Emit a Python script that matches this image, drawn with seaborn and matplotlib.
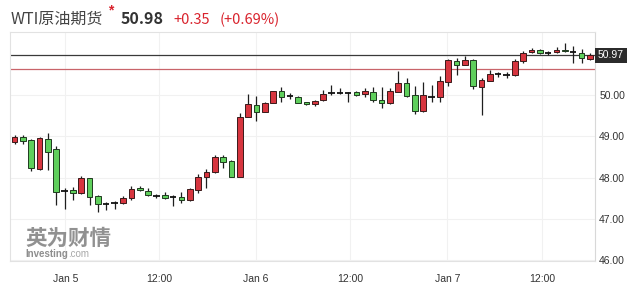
import numpy as np
import pandas as pd
import matplotlib
matplotlib.use("Agg")
import matplotlib.pyplot as plt
import seaborn as sns

# ---- data ----
opens = [48.86, 48.99, 48.91, 48.20, 48.93, 48.69, 47.67, 47.70, 47.62, 47.98,
         47.55, 47.36, 47.38, 47.38, 47.50, 47.75, 47.67, 47.55, 47.58, 47.52,
         47.54, 47.46, 47.70, 48.02, 48.13, 48.49, 48.40, 48.01, 49.46, 49.76,
         49.60, 49.82, 50.09, 49.98, 49.95, 49.83, 49.78, 49.88, 50.05, 50.05,
         50.05, 50.07, 50.02, 50.07, 49.88, 49.80, 50.07, 50.29, 50.00, 49.62,
         49.96, 49.96, 50.33, 50.83, 50.72, 50.85, 50.19, 50.35, 50.51, 50.49,
         50.49, 50.83, 51.04, 51.10, 51.03, 51.04, 51.10, 51.04, 51.03, 50.87]
highs = [49.04, 49.03, 48.93, 48.98, 49.08, 48.77, 47.76, 47.78, 48.04, 48.00,
         47.58, 47.40, 47.43, 47.55, 47.80, 47.80, 47.76, 47.60, 47.66, 47.58,
         47.66, 47.74, 48.08, 48.21, 48.55, 48.55, 48.43, 49.56, 50.03, 49.98,
         49.84, 50.11, 50.19, 50.05, 49.98, 49.84, 49.88, 50.13, 50.25, 50.17,
         50.07, 50.09, 50.17, 50.19, 50.19, 50.17, 50.59, 50.41, 50.21, 50.33,
         50.25, 50.47, 50.87, 50.90, 50.95, 50.87, 50.41, 50.61, 50.56, 50.55,
         50.87, 51.06, 51.14, 51.11, 51.08, 51.16, 51.27, 51.19, 51.11, 51.02]
lows = [48.82, 48.81, 48.17, 48.18, 48.18, 47.33, 47.23, 47.46, 47.60, 47.33,
        47.17, 47.21, 47.25, 47.36, 47.46, 47.68, 47.55, 47.50, 47.48, 47.31,
        47.39, 47.44, 47.62, 47.76, 48.12, 48.23, 48.01, 48.01, 49.46, 49.38,
        49.60, 49.80, 49.84, 49.90, 49.80, 49.76, 49.74, 49.86, 50.00, 50.02,
        49.83, 49.99, 49.96, 49.84, 49.70, 49.78, 50.07, 49.96, 49.54, 49.60,
        49.84, 49.84, 50.23, 50.49, 50.72, 50.14, 49.52, 50.35, 50.43, 50.41,
        50.47, 50.79, 51.03, 51.00, 50.98, 51.03, 51.04, 50.79, 50.79, 50.85]
closes = [48.99, 48.88, 48.24, 48.95, 48.63, 47.66, 47.67, 47.62, 47.98, 47.54,
          47.35, 47.36, 47.38, 47.50, 47.72, 47.69, 47.57, 47.55, 47.50, 47.52,
          47.46, 47.72, 48.02, 48.13, 48.51, 48.38, 48.01, 49.46, 49.78, 49.60,
          49.82, 50.09, 49.95, 49.98, 49.80, 49.78, 49.86, 50.02, 50.05, 50.05,
          50.05, 50.00, 50.10, 49.87, 49.80, 50.09, 50.29, 49.99, 49.62, 50.00,
          49.96, 50.35, 50.84, 50.72, 50.85, 50.21, 50.37, 50.51, 50.51, 50.49,
          50.83, 51.03, 51.10, 51.03, 51.03, 51.10, 51.06, 51.04, 50.91, 50.97]

x_tick_labels = ["Jan 5", "12:00", "Jan 6", "12:00", "Jan 7", "12:00"]
x_tick_pos = [6.1, 17.3, 28.9, 40.2, 51.9, 63.3]
y_ticks = [46.0, 47.0, 48.0, 49.0, 50.0]
last_price = 50.97
prev_close = 50.63

title_name = "WTI原油期货"
title_price = "50.98"
title_change = "+0.35"
title_pct = "(+0.69%)"

df = pd.DataFrame({"open": opens, "high": highs, "low": lows, "close": closes})
df["idx"] = np.arange(len(df))

# ---- style ----
sns.set_theme(style="white")
plt.rcParams["font.family"] = ["Liberation Sans", "Noto Sans CJK SC", "DejaVu Sans"]

W, H = 637, 292
fig = plt.figure(figsize=(W / 100, H / 100), dpi=100)
ax = fig.add_axes([10 / W, 1 - 261 / H, (595 - 10) / W, (261 - 32) / H])
ax.set_facecolor("white")

ax.set_xlim(-0.55, 69.6)
ax.set_ylim(45.98, 51.53)

# grid
for yt in y_ticks:
    ax.axhline(yt, color="#f1f1f1", lw=0.8, zorder=0)
for xt in x_tick_pos:
    ax.axvline(xt, color="#f1f1f1", lw=0.8, zorder=0)

# watermark
ax.text(15 / 585, (261 - 238) / 229, "英为财情", transform=ax.transAxes,
        fontsize=15.5, fontweight="bold", color="#7e7e7e", alpha=0.85,
        family=["Noto Sans CJK SC"], va="center", ha="left", zorder=1)
ax.text(15 / 585, (261 - 254) / 229, "Investing", transform=ax.transAxes,
        fontsize=7, fontweight="bold", color="#8e8e8e", va="center", ha="left", zorder=1)
ax.text(58 / 585, (261 - 254) / 229, ".com", transform=ax.transAxes,
        fontsize=7, color="#a8a8a8", va="center", ha="left", zorder=1)

# wicks
ax.vlines(df["idx"], df["low"], df["high"], color="#1e1e1e", lw=0.9, zorder=2)

# bodies
body_w = 0.68
diff = df["close"] - df["open"]
doji = diff.abs() < 0.005
up = (diff > 0) & ~doji
down = (diff < 0) & ~doji
ax.bar(df.loc[up, "idx"], diff[up].abs(), bottom=df.loc[up, "open"], width=body_w,
       color="#d7353f", edgecolor="#3a1a1a", linewidth=0.7, zorder=3)
ax.bar(df.loc[down, "idx"], diff[down].abs(), bottom=df.loc[down, "close"], width=body_w,
       color="#5fcf5c", edgecolor="#1f3a1f", linewidth=0.7, zorder=3)
ax.hlines(df.loc[doji, "close"], df.loc[doji, "idx"] - 0.38, df.loc[doji, "idx"] + 0.38,
          color="#111111", lw=1.3, zorder=3)

# reference lines
ax.axhline(last_price, color="#3a3a3a", lw=0.9, zorder=1.5)
ax.axhline(prev_close, color="#c9646a", lw=0.9, zorder=1.5)

# axes / ticks
ax.set_xticks(x_tick_pos)
ax.set_xticklabels(x_tick_labels)
ax.set_yticks(y_ticks)
ax.set_yticklabels([f"{v:.2f}" for v in y_ticks])
ax.yaxis.tick_right()
ax.tick_params(axis="y", length=0, pad=3, labelsize=7.5, labelcolor="#333333")
ax.tick_params(axis="x", length=0, pad=9, labelsize=7.5, labelcolor="#333333")

for side in ["top", "bottom", "right", "left"]:
    ax.spines[side].set_color("#e2e2e2")
    ax.spines[side].set_linewidth(0.8)
ax.spines["right"].set_color("#d8d8d8")

# last price label box
ax.text(1.0 + 3 / 585, last_price, f"{last_price:.2f}", transform=ax.get_yaxis_transform(),
        fontsize=7.5, color="white", va="center", ha="left", zorder=5,
        bbox=dict(boxstyle="square,pad=0.25", facecolor="#2b2b2b", edgecolor="none"))

# title
cjk = ["Noto Sans CJK SC", "DejaVu Sans"]
base_y = 1 - 24 / H
fig.text(11 / W, base_y, title_name, fontsize=11.5, color="#444444", family=cjk, va="baseline")
fig.text(108 / W, 1 - 14 / H, "*", fontsize=10, color="#d9232d", fontweight="bold",
         va="baseline")
fig.text(121 / W, base_y, title_price, fontsize=11.5, fontweight="bold", color="#333333",
         family=cjk, va="baseline")
fig.text(173 / W, base_y, title_change, fontsize=10.5, color="#d9232d", family=cjk,
         fontweight="medium", va="baseline")
fig.text(220 / W, base_y, title_pct, fontsize=10.5, color="#d9232d", family=cjk,
         fontweight="medium", va="baseline")

fig.savefig("out.png", dpi=100, facecolor="white")
